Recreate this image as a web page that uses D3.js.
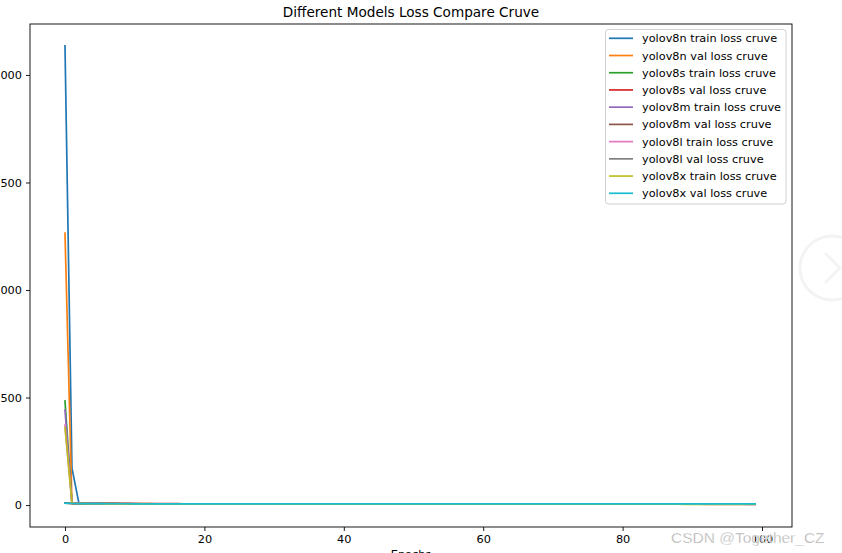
<!DOCTYPE html>
<html><head><meta charset="utf-8">
<script src="https://cdn.jsdelivr.net/npm/d3@7/dist/d3.min.js"></script>
<style>html,body{margin:0;padding:0;background:#fff;overflow:hidden}</style>
</head><body><svg id="c" width="842" height="553"></svg>
<script>
const seriesNames = ["yolov8n train loss cruve","yolov8n val loss cruve","yolov8s train loss cruve","yolov8s val loss cruve","yolov8m train loss cruve","yolov8m val loss cruve","yolov8l train loss cruve","yolov8l val loss cruve","yolov8x train loss cruve","yolov8x val loss cruve"];
const colors = ["#1f77b4","#ff7f0e","#2ca02c","#d62728","#9467bd","#8c564b","#e377c2","#7f7f7f","#bcbd22","#17becf"];
const xTicks = [0,20,40,60,80,100];
const yTicks = [0,500,1000,1500,2000];

const nTrain = [2135,172,7.9,7.2,6.9,6.7,6.6,6.5,6.4,6.3,6.3,6.2,6.2,6.1,6.1,6.0,6.0,5.9,5.9,5.9,5.8,5.8,5.8,5.7,5.7,5.7,5.7,5.6,5.6,5.6,5.6,5.5,5.5,5.5,5.5,5.5,5.4,5.4,5.4,5.4,5.4,5.3,5.3,5.3,5.3,5.3,5.2,5.2,5.2,5.2,5.2,5.1,5.1,5.1,5.1,5.1,5.0,5.0,5.0,5.0,5.0,4.9,4.9,4.9,4.9,4.9,4.8,4.8,4.8,4.8,4.8,4.7,4.7,4.7,4.7,4.7,4.6,4.6,4.6,4.6,4.6,4.5,4.5,4.5,4.5,4.5,4.4,4.4,4.4,4.3,4.3,4.3,4.2,4.2,4.2,4.1,4.1,4.1,4.0,4.0];
const nVal = [1265,7.4,7.0,6.8,6.7,6.6,6.5,6.5,6.4,6.4,6.3,6.3,6.3,6.2,6.2,6.2,6.2,6.1,6.1,6.1,6.1,6.1,6.0,6.0,6.0,6.0,6.0,6.0,5.9,5.9,5.9,5.9,5.9,5.9,5.9,5.8,5.8,5.8,5.8,5.8,5.8,5.8,5.8,5.7,5.7,5.7,5.7,5.7,5.7,5.7,5.7,5.7,5.6,5.6,5.6,5.6,5.6,5.6,5.6,5.6,5.6,5.6,5.6,5.5,5.5,5.5,5.5,5.5,5.5,5.5,5.5,5.5,5.5,5.5,5.5,5.5,5.4,5.4,5.4,5.4,5.4,5.4,5.4,5.4,5.4,5.4,5.4,5.4,5.4,5.4,5.4,5.4,5.4,5.4,5.4,5.4,5.4,5.4,5.4,5.4];
const sTrain = [484,8.3,7.7,7.0,6.7,6.5,6.4,6.3,6.2,6.1,6.1,6.0,6.0,5.9,5.9,5.8,5.8,5.7,5.7,5.7,5.6,5.6,5.6,5.5,5.5,5.5,5.5,5.4,5.4,5.4,5.4,5.3,5.3,5.3,5.3,5.3,5.2,5.2,5.2,5.2,5.2,5.1,5.1,5.1,5.1,5.1,5.0,5.0,5.0,5.0,5.0,4.9,4.9,4.9,4.9,4.9,4.8,4.8,4.8,4.8,4.8,4.7,4.7,4.7,4.7,4.7,4.6,4.6,4.6,4.6,4.6,4.5,4.5,4.5,4.5,4.5,4.4,4.4,4.4,4.4,4.4,4.3,4.3,4.3,4.3,4.3,4.2,4.2,4.2,4.1,4.1,4.1,4.0,4.0,4.0,3.9,3.9,3.9,3.8,3.8];
const sVal = [9.5,7.6,7.1,6.9,6.8,6.7,6.6,6.6,6.5,6.5,6.4,6.4,6.4,6.3,6.3,6.3,6.3,6.2,6.2,6.2,6.2,6.2,6.1,6.1,6.1,6.1,6.1,6.1,6.0,6.0,6.0,6.0,6.0,6.0,6.0,5.9,5.9,5.9,5.9,5.9,5.9,5.9,5.9,5.8,5.8,5.8,5.8,5.8,5.8,5.8,5.8,5.8,5.7,5.7,5.7,5.7,5.7,5.7,5.7,5.7,5.7,5.7,5.7,5.6,5.6,5.6,5.6,5.6,5.6,5.6,5.6,5.6,5.6,5.6,5.6,5.6,5.5,5.5,5.5,5.5,5.5,5.5,5.5,5.5,5.5,5.5,5.5,5.5,5.5,5.5,5.5,5.5,5.5,5.5,5.5,5.5,5.5,5.5,5.5,5.5];
const mTrain = [442,8.1,7.5,6.8,6.5,6.3,6.2,6.1,6.0,5.9,5.9,5.8,5.8,5.7,5.7,5.6,5.6,5.5,5.5,5.5,5.4,5.4,5.4,5.3,5.3,5.3,5.3,5.2,5.2,5.2,5.2,5.1,5.1,5.1,5.1,5.1,5.0,5.0,5.0,5.0,5.0,4.9,4.9,4.9,4.9,4.9,4.8,4.8,4.8,4.8,4.8,4.7,4.7,4.7,4.7,4.7,4.6,4.6,4.6,4.6,4.6,4.5,4.5,4.5,4.5,4.5,4.4,4.4,4.4,4.4,4.4,4.3,4.3,4.3,4.3,4.3,4.2,4.2,4.2,4.2,4.2,4.1,4.1,4.1,4.1,4.1,4.0,4.0,4.0,3.9,3.9,3.9,3.8,3.8,3.8,3.7,3.7,3.7,3.6,3.6];
const mVal = [9.0,7.5,6.9,6.7,6.6,6.5,6.4,6.4,6.3,6.3,6.2,6.2,6.2,6.1,6.1,6.1,6.1,6.0,6.0,6.0,6.0,6.0,5.9,5.9,5.9,5.9,5.9,5.9,5.8,5.8,5.8,5.8,5.8,5.8,5.8,5.7,5.7,5.7,5.7,5.7,5.7,5.7,5.7,5.6,5.6,5.6,5.6,5.6,5.6,5.6,5.6,5.6,5.5,5.5,5.5,5.5,5.5,5.5,5.5,5.5,5.5,5.5,5.5,5.4,5.4,5.4,5.4,5.4,5.4,5.4,5.4,5.4,5.4,5.4,5.4,5.4,5.3,5.3,5.3,5.3,5.3,5.3,5.3,5.3,5.3,5.3,5.3,5.3,5.3,5.3,5.3,5.3,5.3,5.3,5.3,5.3,5.3,5.3,5.3,5.3];
const lTrain = [372,8.0,7.3,6.6,6.3,6.1,6.0,5.9,5.8,5.7,5.7,5.6,5.6,5.5,5.5,5.4,5.4,5.3,5.3,5.3,5.2,5.2,5.2,5.1,5.1,5.1,5.1,5.0,5.0,5.0,5.0,4.9,4.9,4.9,4.9,4.9,4.8,4.8,4.8,4.8,4.8,4.7,4.7,4.7,4.7,4.7,4.6,4.6,4.6,4.6,4.6,4.5,4.5,4.5,4.5,4.5,4.4,4.4,4.4,4.4,4.4,4.3,4.3,4.3,4.3,4.3,4.2,4.2,4.2,4.2,4.2,4.1,4.1,4.1,4.1,4.1,4.0,4.0,4.0,4.0,4.0,3.9,3.9,3.9,3.9,3.9,3.8,3.8,3.8,3.7,3.7,3.7,3.6,3.6,3.6,3.5,3.5,3.5,3.4,3.4];
const lVal = [9.2,7.4,6.8,6.6,6.5,6.4,6.3,6.3,6.2,6.2,6.1,6.1,6.1,6.0,6.0,6.0,6.0,5.9,5.9,5.9,5.9,5.9,5.8,5.8,5.8,5.8,5.8,5.8,5.7,5.7,5.7,5.7,5.7,5.7,5.7,5.6,5.6,5.6,5.6,5.6,5.6,5.6,5.6,5.5,5.5,5.5,5.5,5.5,5.5,5.5,5.5,5.5,5.4,5.4,5.4,5.4,5.4,5.4,5.4,5.4,5.4,5.4,5.4,5.3,5.3,5.3,5.3,5.3,5.3,5.3,5.3,5.3,5.3,5.3,5.3,5.3,5.2,5.2,5.2,5.2,5.2,5.2,5.2,5.2,5.2,5.2,5.2,5.2,5.2,5.2,5.2,5.2,5.2,5.2,5.2,5.2,5.2,5.2,5.2,5.2];
const xTrain = [360,7.9,7.2,6.5,6.2,6.0,5.9,5.8,5.7,5.6,5.6,5.5,5.5,5.4,5.4,5.3,5.3,5.2,5.2,5.2,5.1,5.1,5.1,5.0,5.0,5.0,5.0,4.9,4.9,4.9,4.9,4.8,4.8,4.8,4.8,4.8,4.7,4.7,4.7,4.7,4.7,4.6,4.6,4.6,4.6,4.6,4.5,4.5,4.5,4.5,4.5,4.4,4.4,4.4,4.4,4.4,4.3,4.3,4.3,4.3,4.3,4.2,4.2,4.2,4.2,4.2,4.1,4.1,4.1,4.1,4.1,4.0,4.0,4.0,4.0,4.0,3.9,3.9,3.9,3.9,3.9,3.8,3.8,3.8,3.8,3.8,3.7,3.7,3.7,3.6,3.6,3.6,3.5,3.5,3.5,3.4,3.4,3.4,3.3,3.3];
const xVal = [9.0,7.3,6.7,6.5,6.4,6.3,6.2,6.2,6.1,6.1,6.0,6.0,6.0,5.9,5.9,5.9,5.9,5.8,5.8,5.8,5.8,5.8,5.7,5.7,5.7,5.7,5.7,5.7,5.6,5.6,5.6,5.6,5.6,5.6,5.6,5.5,5.5,5.5,5.5,5.5,5.5,5.5,5.5,5.4,5.4,5.4,5.4,5.4,5.4,5.4,5.4,5.4,5.3,5.3,5.3,5.3,5.3,5.3,5.3,5.3,5.3,5.3,5.3,5.2,5.2,5.2,5.2,5.2,5.2,5.2,5.2,5.2,5.2,5.2,5.2,5.2,5.1,5.1,5.1,5.1,5.1,5.1,5.1,5.1,5.1,5.1,5.1,5.1,5.1,5.1,5.1,5.1,5.1,5.1,5.1,5.1,5.1,5.1,5.1,5.1];

const allSeries = [nTrain,nVal,sTrain,sVal,mTrain,mVal,lTrain,lVal,xTrain,xVal];

const svg = d3.select("#c");
const font = "'DejaVu Sans', sans-serif";
const L = 30, R = 792, T = 24, B = 527;

const x = d3.scaleLinear().domain([-5.02, 104.3]).range([L, R]);
const y = d3.scaleLinear().domain([-102, 2237]).range([B, T]);

// watermark circle (very faint)
const wm = svg.append("g").attr("fill","none").attr("stroke","#f3f3f3").attr("stroke-width",3);
wm.append("circle").attr("cx",832).attr("cy",268).attr("r",32);
wm.append("path").attr("d","M826,254 L840,268 L826,282").attr("stroke-linecap","round");

// lines
const line = d3.line().x((d,i)=>x(i)).y(d=>y(d));
const plot = svg.append("g");
allSeries.forEach((s,k)=>{
  plot.append("path").datum(s).attr("d",line)
    .attr("fill","none").attr("stroke",colors[k]).attr("stroke-width",1.7)
    .attr("stroke-linejoin","round").attr("stroke-linecap","square");
});

// axes
const xAxis = d3.axisBottom(x).tickValues(xTicks).tickSize(4).tickPadding(4);
const yAxis = d3.axisLeft(y).tickValues(yTicks).tickSize(4).tickPadding(4);
const gx = svg.append("g").attr("transform",`translate(0,${B})`).call(xAxis);
const gy = svg.append("g").attr("transform",`translate(${L},0)`).call(yAxis);
[gx,gy].forEach(g=>{
  g.select(".domain").remove();
  g.selectAll("line").attr("stroke","#000").attr("stroke-width",0.9);
  g.selectAll("text").attr("font-family",font).attr("font-size",11.3).attr("fill","#000");
});

// frame
svg.append("rect").attr("x",L).attr("y",T).attr("width",R-L).attr("height",B-T)
  .attr("fill","none").attr("stroke","#000").attr("stroke-width",0.9);

// title
svg.append("text").attr("x",(L+R)/2).attr("y",17).attr("text-anchor","middle")
  .attr("font-family",font).attr("font-size",13.6).attr("fill","#000")
  .text("Different Models Loss Compare Cruve");

// x label
svg.append("text").attr("x",(L+R)/2).attr("y",558).attr("text-anchor","middle")
  .attr("font-family",font).attr("font-size",11.3).attr("fill","#000").text("Epochs");

// legend
const lg = svg.append("g");
lg.append("rect").attr("x",605.5).attr("y",29.5).attr("width",180.5).attr("height",174.5)
  .attr("rx",3).attr("fill","#fff").attr("fill-opacity",0.8).attr("stroke","#cccccc").attr("stroke-width",0.9);
seriesNames.forEach((nm,k)=>{
  const cy = 38.3 + k*17.22;
  lg.append("line").attr("x1",609).attr("x2",633).attr("y1",cy).attr("y2",cy)
    .attr("stroke",colors[k]).attr("stroke-width",1.7);
  lg.append("text").attr("x",642).attr("y",cy+4).attr("font-family",font).attr("font-size",11.3)
    .attr("fill","#000").text(nm);
});

// site watermark
svg.append("text").attr("x",671).attr("y",543).attr("font-family","'Liberation Sans', Arial, sans-serif")
  .attr("font-size",15.5).attr("fill","#a8a8a8").attr("stroke","#ffffff").attr("stroke-width",0.4)
  .text("CSDN @Together_CZ");
</script></body></html>
